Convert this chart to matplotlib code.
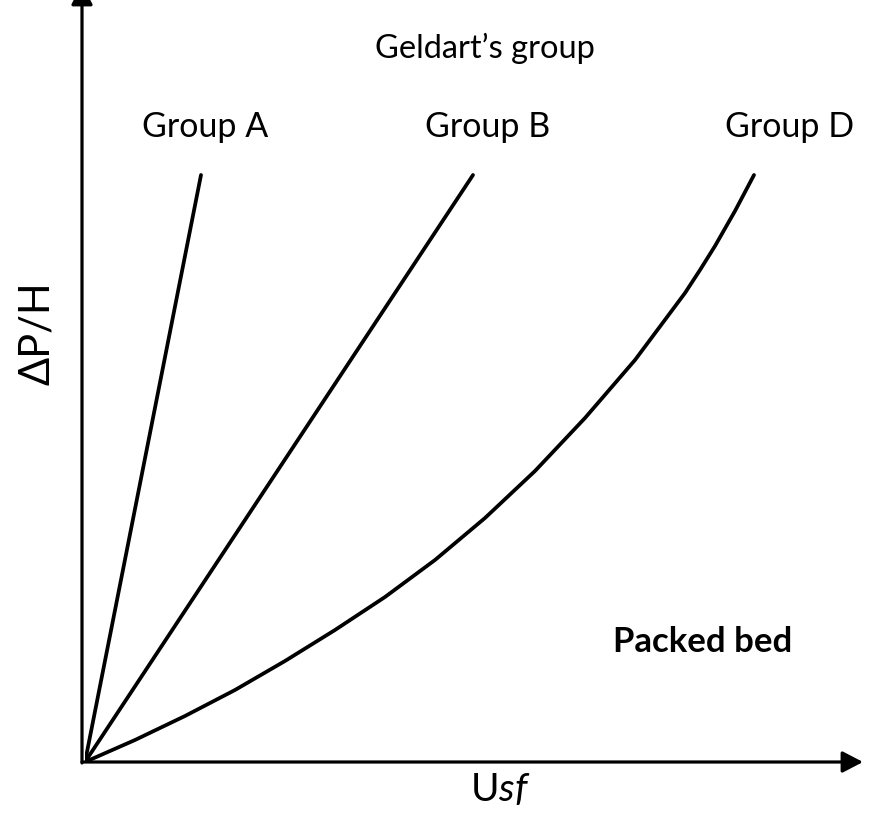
import matplotlib
matplotlib.use("Agg")
import matplotlib.pyplot as plt
import numpy as np

plt.rcParams['font.family'] = ['Lato', 'DejaVu Sans']
plt.rcParams['mathtext.fontset'] = 'custom'
plt.rcParams['mathtext.rm'] = 'Lato'
plt.rcParams['mathtext.it'] = 'Lato:italic'

# curves (U_sf, dP/H), arbitrary units
usf_a = [0.0, 1.16]
dp_a = [0.0, 5.87]
usf_b = [0.0, 3.88]
dp_b = [0.0, 5.87]
usf_d = [0.0, 0.5, 1.0, 1.5, 2.0, 2.5, 3.0, 3.5, 4.0, 4.5, 5.0, 5.5,
         6.0, 6.15, 6.3, 6.5, 6.69]
dp_d = [0.0, 0.22, 0.46, 0.72, 1.01, 1.32, 1.65, 2.02, 2.44, 2.91, 3.44, 4.02,
        4.69, 4.92, 5.16, 5.51, 5.87]

group_names = ["Group A", "Group B", "Group D"]
group_label_x = [1.20, 4.03, 7.05]

fig = plt.figure(figsize=(8.96, 8.18), dpi=100)
ax = fig.add_axes([85 / 896, 56 / 818, 777 / 896, 762 / 818])
ax.set_xlim(0, 7.77)
ax.set_ylim(0, 7.62)
ax.axis('off')

lw = 2.7
ax.plot(usf_a, dp_a, color='black', lw=lw, solid_capstyle='round')
ax.plot(usf_b, dp_b, color='black', lw=lw, solid_capstyle='round')
ax.plot(usf_d, dp_d, color='black', lw=lw, solid_capstyle='round',
        solid_joinstyle='round')

# axes with arrows
ax.annotate('', xy=(7.78, 0), xytext=(-0.03, 0), xycoords='data',
            arrowprops=dict(arrowstyle='-|>,head_length=1.25,head_width=0.65',
                            color='black', lw=2.3, shrinkA=0, shrinkB=0),
            annotation_clip=False)
ax.annotate('', xy=(-0.03, 7.78), xytext=(-0.03, -0.01), xycoords='data',
            arrowprops=dict(arrowstyle='-|>,head_length=1.25,head_width=0.65',
                            color='black', lw=2.3, shrinkA=0, shrinkB=0),
            annotation_clip=False)

ax.text(4.0, 7.14, "Geldart\u2019s group", ha='center', va='center', fontsize=23.5)
for name, gx in zip(group_names, group_label_x):
    ax.text(gx, 6.35, name, ha='center', va='center', fontsize=24.5)
ax.text(6.18, 1.20, "Packed bed", ha='center', va='center', fontsize=25,
        fontweight='bold')

ax.text(-0.48, 4.29, "\u0394P/H", ha='center', va='center', fontsize=30,
        rotation=90, clip_on=False)
ax.text(4.15, -0.28, r"U$\mathit{sf}$", ha='center', va='center', fontsize=28,
        clip_on=False)

fig.savefig("out.png", dpi=100)
